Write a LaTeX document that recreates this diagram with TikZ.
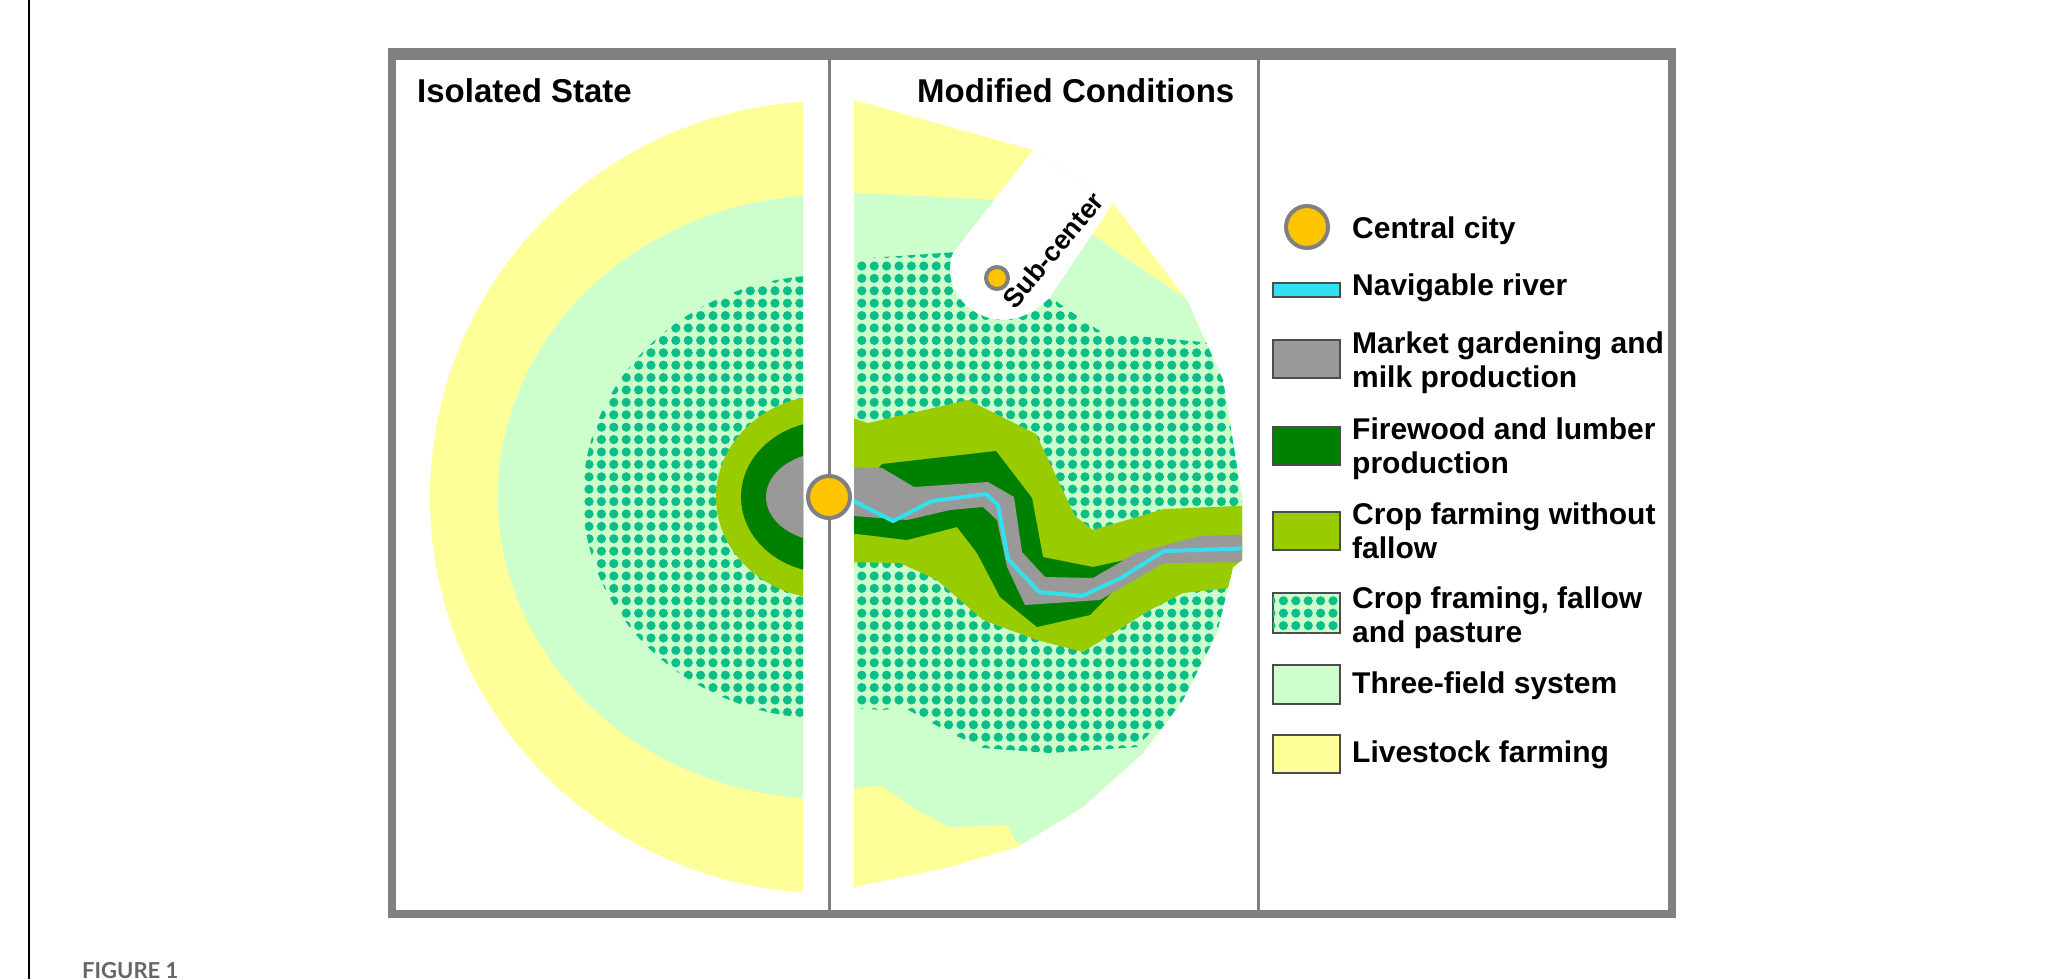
\documentclass[tikz,border=0pt]{standalone}
\usepackage{fontspec}
\setmainfont{Liberation Sans}
\newfontfamily\latofont{Lato}
\usetikzlibrary{patterns}
\definecolor{cyel}{RGB}{255,255,153}
\definecolor{cthree}{RGB}{204,255,204}
\definecolor{cdot}{RGB}{10,190,135}
\definecolor{clight}{RGB}{153,204,0}
\definecolor{cdark}{RGB}{0,128,0}
\definecolor{cgray}{RGB}{153,153,153}
\definecolor{criver}{RGB}{51,224,240}
\definecolor{cgold}{RGB}{255,196,0}
\definecolor{cframe}{RGB}{128,128,128}
\pgfdeclarepatternformonly{cdots}{\pgfqpoint{-1pt}{-1pt}}{\pgfqpoint{13.4pt}{13.4pt}}{\pgfqpoint{12.4pt}{12.4pt}}{\pgfpathcircle{\pgfqpoint{6.2pt}{6.2pt}}{4.6pt}\pgfusepath{fill}}
\tikzset{
 checker/.style={fill=cthree,postaction={pattern=cdots,pattern color=cdot}},
 lbox/.style={draw=black!70,line width=1.5pt},
 ltext/.style={anchor=base west,inner sep=0pt,align=left,font=\bfseries\fontsize{30}{34}\selectfont},
 head/.style={anchor=base west,inner sep=0pt,font=\bfseries\fontsize{33}{36}\selectfont},
 city/.style={circle,fill=cgold,draw=cframe,line width=4pt,inner sep=0pt}
}
\begin{document}
\begin{tikzpicture}[x=1pt,y=-1pt]
\useasboundingbox (0,0) rectangle (2055,979);
\fill[white] (0,0) rectangle (2055,979);
\draw[black,line width=1.5pt] (29,0) -- (29,979);
\node[anchor=base west,inner sep=0pt,text=black!60,font=\latofont\bfseries\fontsize{22}{24}\selectfont] (fig) at (82,978) {FIGURE 1};

% left panel
\begin{scope}
\clip (392,62) rectangle (803,906);
\fill[cyel] (829,497) ellipse [x radius=399,y radius=396];
\fill[cthree] (829,497) ellipse [x radius=331,y radius=302];
\path[checker] (829,497) ellipse [x radius=246,y radius=222];
\fill[clight] (829,497) ellipse [x radius=113,y radius=102];
\fill[cdark] (829,497) ellipse [x radius=88,y radius=76];
\fill[cgray] (829,497) ellipse [x radius=63,y radius=45];
\end{scope}

% right panel
\begin{scope}
\clip (854,62) rectangle (1256,906);
\clip (854,100) -- (1033,150) -- (1113,203) -- (1187,300) -- (1223,380) -- (1242,497) -- (1242,560) -- (1233,567) -- (1217,633) -- (1183,700) -- (1143,753) -- (1083,807) -- (1017,847) -- (950,867) -- (854,887) -- cycle;
\fill[cyel] (840,60) rectangle (1260,910);
\fill[cthree] (840,192) -- (1000,200) -- (1050,215) -- (1090,233) -- (1187,300) -- (1260,320) -- (1260,900) -- (1017,843) -- (1007,825) -- (950,827) -- (917,810) -- (880,785) -- (840,790) -- cycle;
\path[checker] (840,260) -- (957,252) -- (1050,297) -- (1083,320) -- (1103,333) -- (1213,343) -- (1260,343) -- (1260,740) -- (1150,733) -- (1137,747) -- (1050,753) -- (983,748) -- (950,733) -- (903,707) -- (883,710) -- (840,707) -- cycle;
\fill[clight] (840,414) -- (868,423) -- (968,400) -- (1036,434) -- (1075,516) -- (1093,530) -- (1164,509) -- (1260,505) -- (1260,601) -- (1230,588) -- (1183,593) -- (1150,610) -- (1083,652) -- (1037,640) -- (983,620) -- (937,580) -- (900,563) -- (840,562) -- cycle;
\fill[cdark] (882,464) -- (996,451) -- (1032,498) -- (1043,557) -- (1093,567) -- (1125,560) -- (1145,558) -- (1130,574) -- (1090,615) -- (1037,627) -- (1000,597) -- (977,553) -- (957,527) -- (907,540) -- (840,532) -- (840,515) -- cycle;
\fill[cgray] (840,467) -- (882,468) -- (914,487) -- (988,482) -- (1014,497) -- (1022,552) -- (1045,577) -- (1093,578) -- (1136,553) -- (1200,536) -- (1260,534) -- (1260,562) -- (1164,563) -- (1100,600) -- (1025,605) -- (1007,567) -- (997,520) -- (983,507) -- (950,510) -- (907,520) -- (840,515) -- cycle;
\draw[criver,line width=4pt,line join=round] (840,494) -- (893,521) -- (932,501) -- (986,494) -- (998,505) -- (1008,559) -- (1039,592) -- (1082,596) -- (1121,578) -- (1164,551) -- (1260,548);
\fill[white] (1120,20) -- (1033,150) -- (953,253) .. controls (935,300) and (1000,350) .. (1050,297) -- (1113,203) -- (1230,30) -- cycle;
\end{scope}
\node[city,minimum size=22pt] (sub) at (997,278) {};
\node[rotate=50,inner sep=0pt,font=\bfseries\fontsize{27}{30}\selectfont] (subl) at (1053,250) {Sub-center};

% frame and dividers
\draw[cframe,line width=3pt] (829,56) -- (829,912);
\draw[cframe,line width=3pt] (1258.5,56) -- (1258.5,912);
\draw[cframe,line width=8pt] (392,52) rectangle (1672,914);
\draw[cframe,line width=4pt] (392,58) -- (1672,58);
\node[city,minimum size=42pt] (cc) at (829,497) {};

\node[head] (iso) at (417,103) {Isolated State};
\node[head] (mod) at (917,103) {Modified Conditions};

% legend
\node[city,minimum size=42pt] (lcity) at (1307,227) {};
\node[ltext] (t1) at (1352,238) {Central city};
\draw[lbox,fill=criver] (1273,283) rectangle (1340,297);
\node[ltext] (t2) at (1352,295) {Navigable river};
\draw[lbox,fill=cgray] (1273,340) rectangle (1340,378);
\node[ltext] (t3) at (1352,387) {Market gardening and\\milk production};
\draw[lbox,fill=cdark] (1273,427) rectangle (1340,465);
\node[ltext] (t4) at (1352,473) {Firewood and lumber\\production};
\draw[lbox,fill=clight] (1273,512) rectangle (1340,550);
\node[ltext] (t5) at (1352,558) {Crop farming without\\fallow};
\draw[lbox,checker] (1273,593) rectangle (1340,633);
\node[ltext] (t6) at (1352,642) {Crop framing, fallow\\and pasture};
\draw[lbox,fill=cthree] (1273,665) rectangle (1340,704);
\node[ltext] (t7) at (1352,693) {Three-field system};
\draw[lbox,fill=cyel] (1273,735) rectangle (1340,773);
\node[ltext] (t8) at (1352,762) {Livestock farming};
\end{tikzpicture}
\end{document}
